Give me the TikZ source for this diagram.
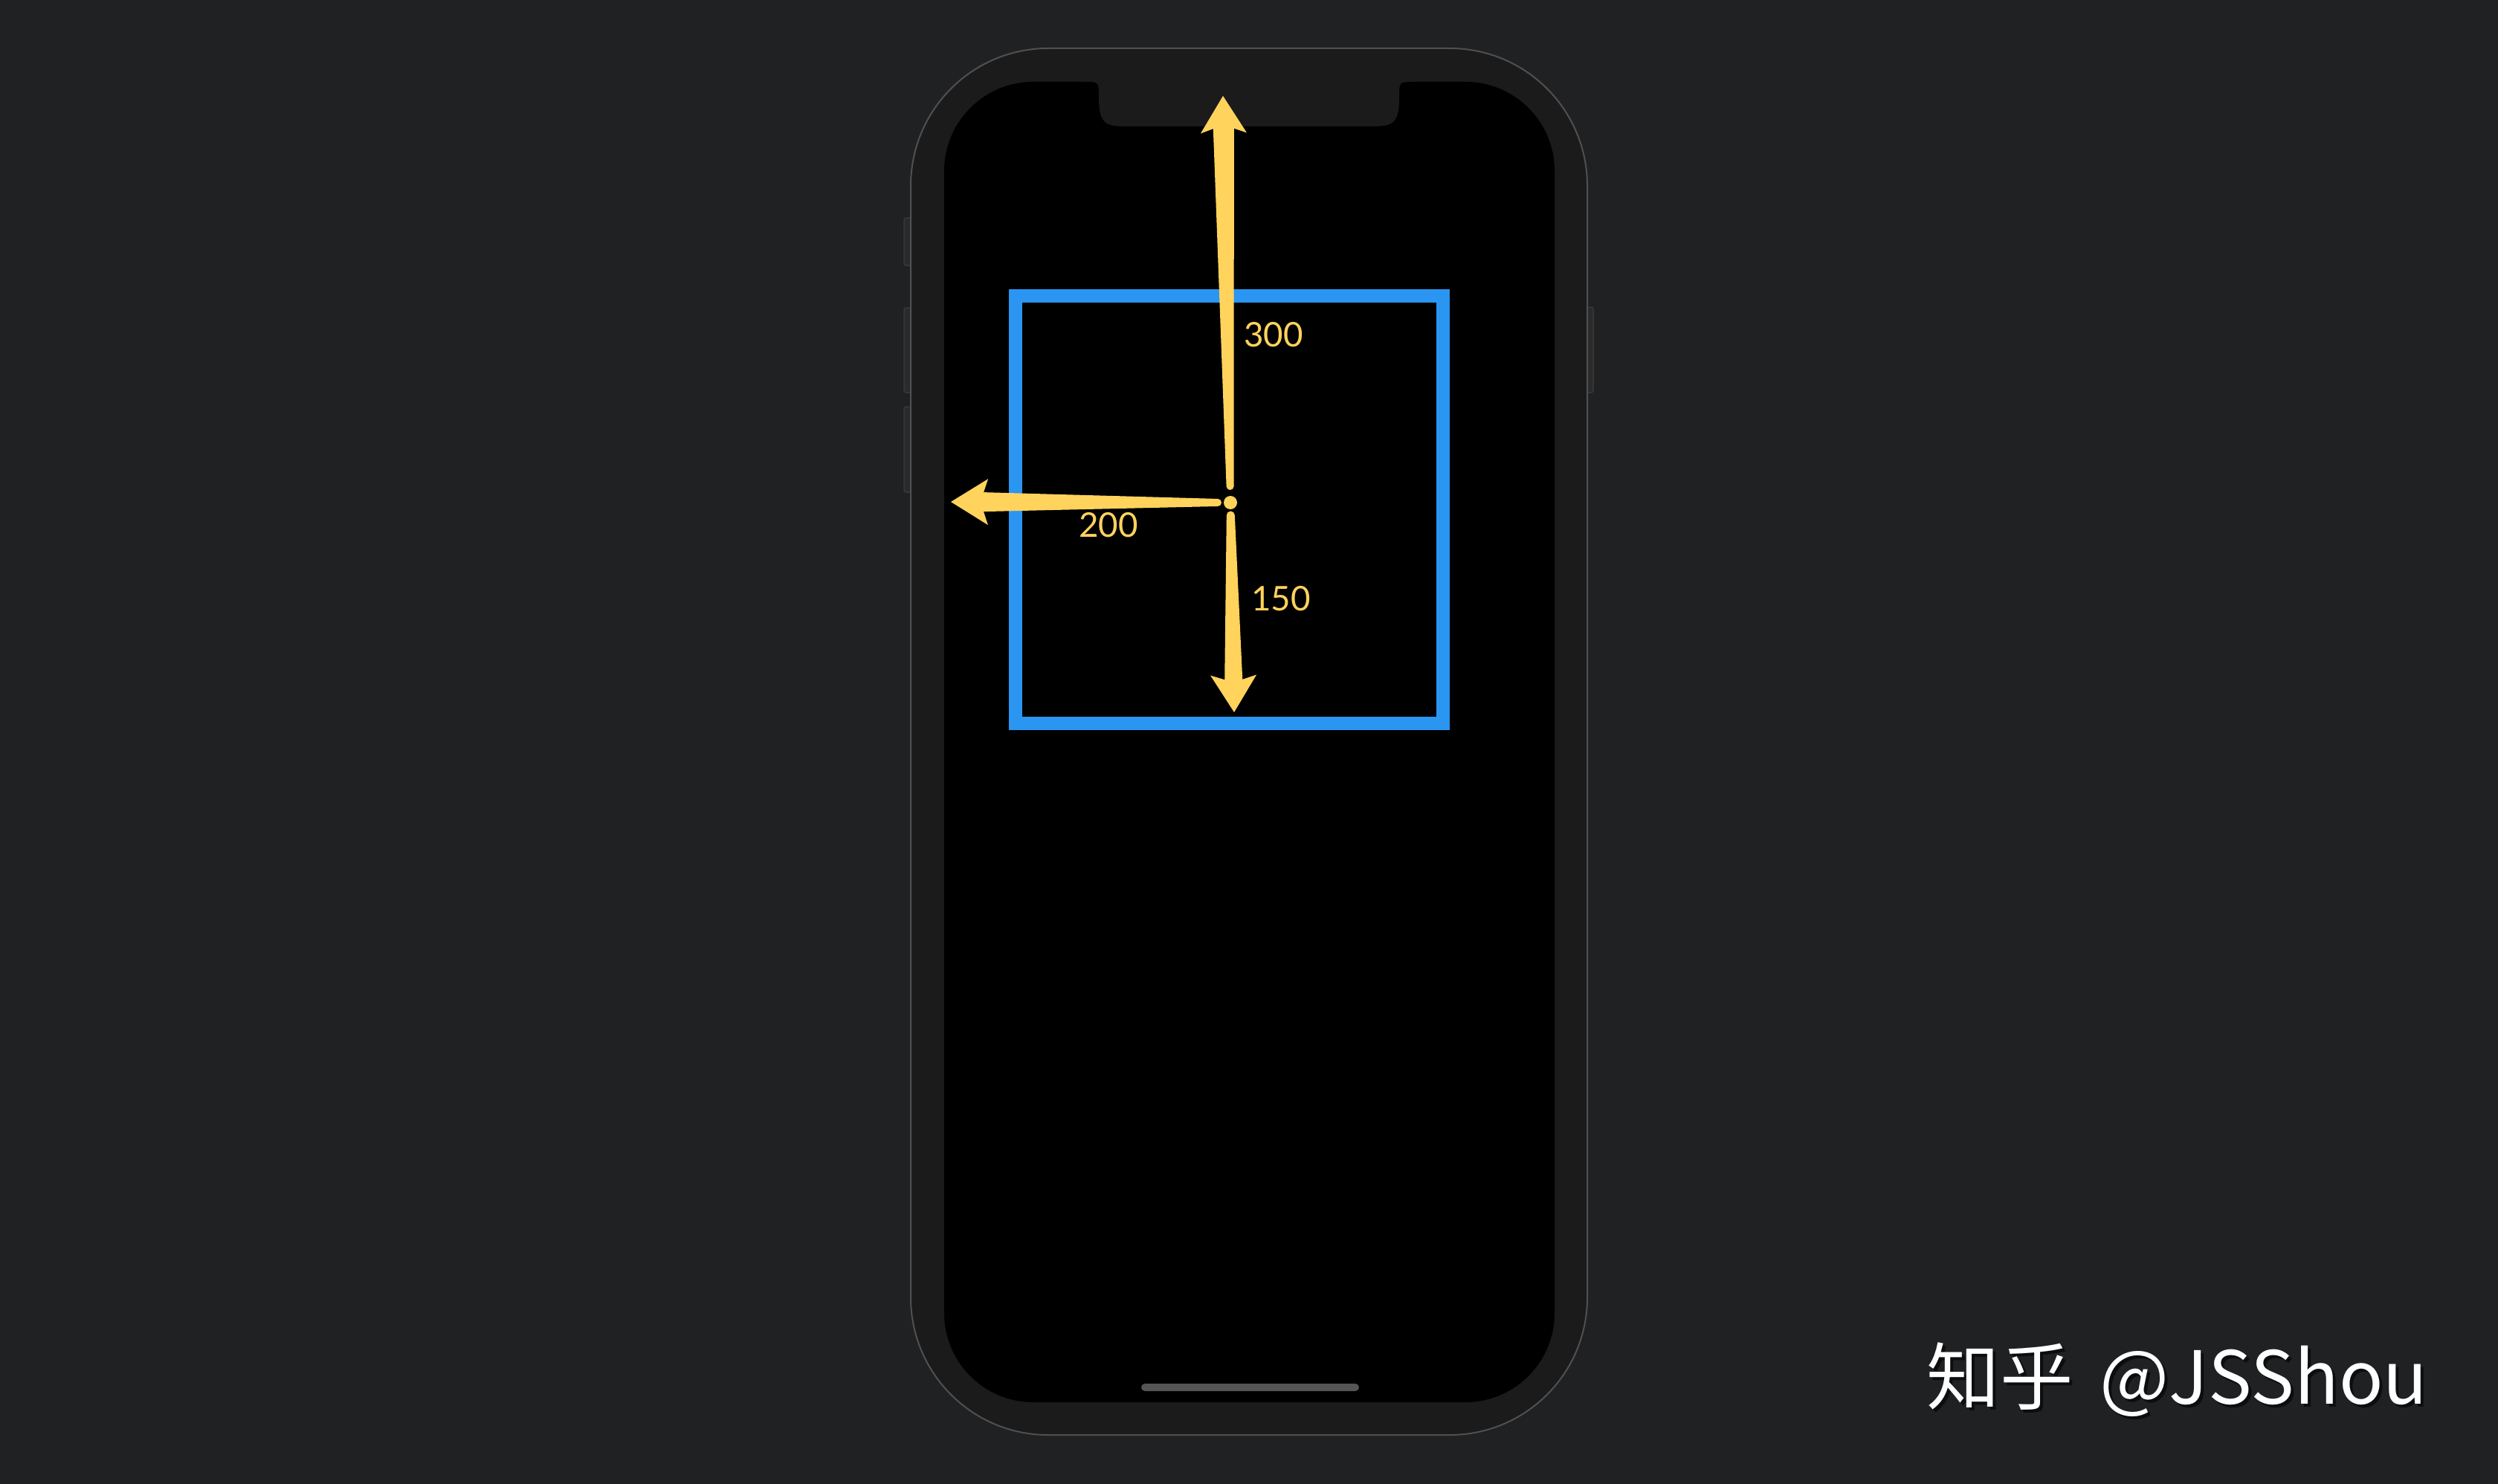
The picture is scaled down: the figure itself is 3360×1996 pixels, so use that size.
\documentclass[tikz,border=0pt]{standalone}
\usepackage{fontspec}
\setmainfont{Lato}
\newfontfamily\cjk{Noto Sans CJK SC}
\usetikzlibrary{calc}
\definecolor{bgcolor}{HTML}{202123}
\definecolor{phonebody}{HTML}{1B1B1B}
\definecolor{phonerim}{HTML}{505050}
\definecolor{sidebtn}{HTML}{2A2A2A}
\definecolor{homebar}{HTML}{555555}
\definecolor{boxblue}{HTML}{2B95F2}
\definecolor{arrowyellow}{HTML}{FFD35C}

% tapered arrow: tail, tip, tail half width, shaft half width at the head
\newcommand{\taperarrow}[4]{%
  \fill[arrowyellow] ($(#1)!#3!90:(#2)$) -- ($(#2)!4.4mm!(#1)!#4!90:(#2)$) -- ($(#2)!5mm!(#1)!3.1mm!90:(#2)$) -- (#2)
    -- ($(#2)!5mm!(#1)!3.1mm!-90:(#2)$) -- ($(#2)!4.4mm!(#1)!#4!-90:(#2)$) -- ($(#1)!#3!-90:(#2)$) -- cycle;
  \fill[arrowyellow] (#1) circle[radius=#3];
}

\begin{document}
\begin{tikzpicture}[x=0.1mm, y=-0.1mm,
    phone/.style={fill=phonebody, draw=phonerim, line width=0.2mm, rounded corners=18.5mm},
    screen/.style={fill=black, rounded corners=12mm},
    sidebutton/.style={fill=sidebtn, draw=phonerim!70!black, line width=0.15mm, rounded corners=0.3mm},
    framebox/.style={draw=boxblue, line width=1.85mm, minimum width=57.5mm, minimum height=57.5mm, inner sep=0},
    dotnode/.style={circle, fill=arrowyellow, minimum size=1.8mm, inner sep=0},
    numlabel/.style={text=arrowyellow, font=\fontsize{13}{13}\selectfont, inner sep=0},
    watermark/.style={font=\cjk\fontsize{28}{28}\selectfont, inner sep=0}
]
% Background
\fill[bgcolor] (0,0) rectangle (3360,1996);
\useasboundingbox (0,0) rectangle (3360,1996);

% Side buttons
\draw[sidebutton] (1216,293) rectangle (1230,357);
\draw[sidebutton] (1216,414) rectangle (1230,528);
\draw[sidebutton] (1216,547) rectangle (1230,662);
\draw[sidebutton] (2130,413) rectangle (2143,528);

% Phone
\draw[phone] (1225,65) rectangle (2135,1930);
\fill[screen] (1270,110) rectangle (2091,1886);
\fill[phonebody] (1458,104) -- (1458,110) .. controls (1478,110) .. (1478,130) -- (1478,132)
  .. controls (1478,170) and (1490,170) .. (1520,170) -- (1840,170) .. controls (1870,170) and (1882,170) .. (1882,132)
  -- (1882,130) .. controls (1882,110) .. (1902,110) -- (1902,104) -- cycle;
\fill[homebar, rounded corners=0.5mm] (1535,1861) rectangle (1828,1871);

% Frame
\node[framebox] (frame) at (1653.5,685.5) {};

% Coordinates
\node[dotnode] (pivot) at (1655,676) {};
\coordinate (uptip) at (1645,129);
\coordinate (lefttip) at (1279,675);
\coordinate (downtip) at (1660,958);
\coordinate (uptail) at ($(pivot)!2.2mm!(uptip)$);
\coordinate (lefttail) at ($(pivot)!1.7mm!(lefttip)$);
\coordinate (downtail) at ($(pivot)!1.7mm!(downtip)$);

% Arrows
\taperarrow{uptail}{uptip}{0.5mm}{1.4mm}
\taperarrow{lefttail}{lefttip}{0.5mm}{1.3mm}
\taperarrow{downtail}{downtip}{0.55mm}{1.2mm}

% Labels
\node[numlabel] (up300) at (1713,450) {300};
\node[numlabel] (left200) at (1491,706) {200};
\node[numlabel] (down150) at (1723,805) {150};

% Watermark
\node[watermark, text=black, opacity=0.6, anchor=base east] (wmshadow) at (3270,1892) {知乎\hspace{1.4mm} @JSShou};
\node[watermark, text=white, anchor=base east] (wm) at (3266,1888) {知乎\hspace{1.4mm} @JSShou};
\end{tikzpicture}
\end{document}
